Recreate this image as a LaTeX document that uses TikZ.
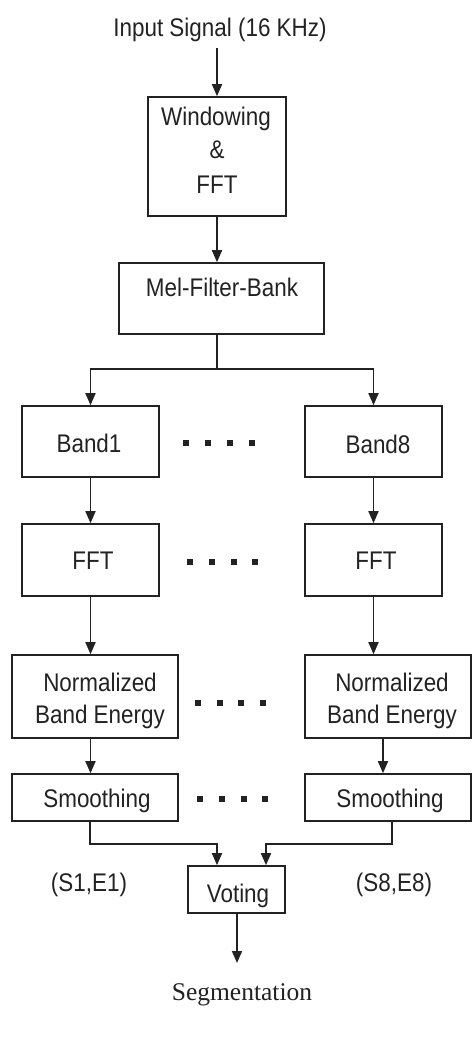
\documentclass[tikz,border=0pt]{standalone}
\usepackage{fontspec}
\setmainfont{Liberation Sans}[FakeStretch=0.88]
\newfontfamily\serifseg{Liberation Serif}
\usetikzlibrary{arrows.meta}
\definecolor{ink}{HTML}{222222}
\tikzset{
  box/.style={draw=ink, line width=1.6pt, rectangle, inner sep=0pt},
  lbl/.style={anchor=base, inner sep=0pt, text=ink, font=\fontsize{25.5}{33}\selectfont, align=center},
  arr/.style={draw=ink, line width=1.7pt, -{Triangle[length=12pt,width=10pt]}},
  ln/.style={draw=ink, line width=1.7pt},
  dotsq/.style={fill=ink, rectangle, minimum size=5.5pt, inner sep=0pt},
}
\newcommand{\mybox}[5]{\node[box, minimum width=#4pt, minimum height=#5pt] (#1) at (#2,#3) {};}
\begin{document}
\begin{tikzpicture}[x=1pt,y=-1pt]
\useasboundingbox (0,0) rectangle (474,1037);
% boxes (name, cx, cy, w, h)
\mybox{win}{217}{156.5}{138}{119}
\mybox{mel}{221.5}{298.5}{205}{71}
\mybox{b1}{90.5}{441.5}{137}{71}
\mybox{b8}{373.5}{441.5}{137}{71}
\mybox{f1}{90.5}{560}{137}{72}
\mybox{f8}{373.5}{560}{137}{72}
\mybox{n1}{95}{696.5}{166}{83}
\mybox{n8}{388}{696.5}{166}{83}
\mybox{s1}{95}{797.5}{166}{47}
\mybox{s8}{388}{797.5}{166}{47}
\mybox{vote}{236.5}{889.5}{97}{47}
% texts
\node[lbl] (tin) at (220,36) {Input Signal (16 KHz)};
\node[lbl] (twin1) at (216,125) {Windowing};
\node[lbl] (twin2) at (217,158) {\&};
\node[lbl] (twin3) at (217,193) {FFT};
\node[lbl] (tmel) at (222,296) {Mel-Filter-Bank};
\node[lbl] (tb1) at (89,452) {Band1};
\node[lbl] (tb8) at (378,453) {Band8};
\node[lbl] (tf1) at (93,569) {FFT};
\node[lbl] (tf8) at (376,569) {FFT};
\node[lbl] (tn1a) at (100,691) {Normalized};
\node[lbl] (tn1b) at (100,723) {Band Energy};
\node[lbl] (tn8a) at (392,691) {Normalized};
\node[lbl] (tn8b) at (392,723) {Band Energy};
\node[lbl] (ts1) at (97,807) {Smoothing};
\node[lbl] (ts8) at (390,807) {Smoothing};
\node[lbl] (tse1) at (89,891) {(S1,E1)};
\node[lbl] (tse8) at (394,891) {(S8,E8)};
\node[lbl] (tvote) at (238,902) {Voting};
\node[lbl, font=\serifseg\fontsize{25.5}{30}\selectfont] (tseg) at (242,1000) {Segmentation};
% dots
\foreach \r/\yy/\xa/\xb/\xc/\xd in {a/443/186/208/230/252, b/562/190/212/234/255, c/703/198/220/241/263, d/799/200/222/244/265}{
  \node[dotsq] (dot\r1) at (\xa,\yy) {};
  \node[dotsq] (dot\r2) at (\xb,\yy) {};
  \node[dotsq] (dot\r3) at (\xc,\yy) {};
  \node[dotsq] (dot\r4) at (\xd,\yy) {};
}
% connectors
\coordinate (j) at (217,369);
\coordinate (inbot) at (217,48);
\draw[arr] (inbot) -- (win.north);
\draw[arr] (win.south) -- (win.south |- mel.north);
\draw[ln] (win.south |- mel.south) -- (j);
\draw[arr] (j) -| (b1.north);
\draw[arr] (j) -| (b8.north);
\draw[arr] (b1.south) -- (f1.north);
\draw[arr] (b8.south) -- (f8.north);
\draw[arr] (f1.south) -- (f1.south |- n1.north);
\draw[arr] (f8.south) -- (f8.south |- n8.north);
\draw[arr] (n1.south -| f1.south) -- (s1.north -| f1.south);
\draw[arr] ([xshift=-5pt]n8.south) -- ([xshift=-5pt]s8.north);
\coordinate (jl) at (90,844);
\coordinate (jr) at (392,844);
\draw[arr] (s1.south -| jl) -- (jl) -| ([xshift=-19.5pt]vote.north);
\draw[arr] (s8.south -| jr) -- (jr) -| ([xshift=29.5pt]vote.north);
\coordinate (segtop) at (237,963);
\draw[arr] (vote.south -| segtop) -- (segtop);
\end{tikzpicture}
\end{document}
